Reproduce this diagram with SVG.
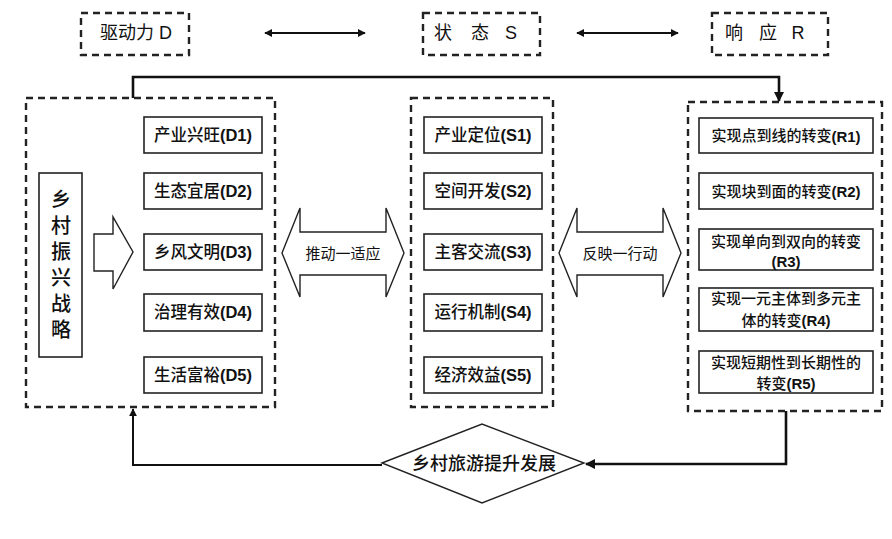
<svg xmlns="http://www.w3.org/2000/svg" width="892" height="539" viewBox="0 0 892 539">
<defs>
<style>
.dash{fill:none;stroke:#222;stroke-width:2.4;stroke-dasharray:7 5}
.box{fill:#fff;stroke:#222;stroke-width:1.6}
.shape{fill:#fff;stroke:#222;stroke-width:1.4}
.conn{fill:none;stroke:#111;stroke-width:2.6}
.thin{fill:none;stroke:#111;stroke-width:2}
text{font-family:"Liberation Sans","Noto Sans CJK SC",sans-serif;fill:#111;text-anchor:middle;dominant-baseline:central}
.hd{font-size:18px}
.bx{font-size:16.5px;font-weight:500}
.rx{font-size:15px;font-weight:500}
.lb{font-weight:bold}
.vt{font-size:20px;font-weight:500}
</style>
<marker id="ah" viewBox="0 0 10 10" refX="9" refY="5" markerWidth="4" markerHeight="4" orient="auto-start-reverse" markerUnits="strokeWidth">
<path d="M0,0 L10,5 L0,10 z" fill="#111"/>
</marker>
</defs>
<rect width="892" height="539" fill="#fff"/>

<g id="header-D"><rect class="dash" x="81" y="13" width="108" height="42"/><text class="hd" x="136" y="33">驱动力 D</text></g>
<g id="header-S"><rect class="dash" x="423" y="13" width="117" height="42"/><text class="hd" y="33"><tspan x="443">状</tspan><tspan x="480">态</tspan><tspan x="511">S</tspan></text></g>
<g id="header-R"><rect class="dash" x="712" y="13" width="116" height="42"/><text class="hd" y="33"><tspan x="734">响</tspan><tspan x="768">应</tspan><tspan x="798">R</tspan></text></g>

<g id="group-D">
<rect class="dash" x="26" y="98" width="249" height="309"/>
</g>
<g id="group-S">
<rect class="dash" x="411" y="98" width="142" height="309"/>
</g>
<g id="group-R">
<rect class="dash" x="688" y="102" width="194" height="309"/>
</g>

<g id="strategy">
<rect class="box" x="39" y="173" width="43" height="184"/>
<text class="vt" x="61" y="200">乡</text>
<text class="vt" x="61" y="226">村</text>
<text class="vt" x="61" y="252">振</text>
<text class="vt" x="61" y="278">兴</text>
<text class="vt" x="61" y="304">战</text>
<text class="vt" x="61" y="330">略</text>
</g>
<g id="arrow-strategy">
<polygon class="shape" points="94,234 113,234 113,217 133,252 113,289 113,271 94,271"/>
</g>

<g id="D1"><rect class="box" x="144" y="117" width="118" height="36"/><text class="bx" x="203" y="135">产业兴旺<tspan class="lb">(D1)</tspan></text></g>
<g id="D2"><rect class="box" x="144" y="173" width="118" height="36"/><text class="bx" x="203" y="191">生态宜居<tspan class="lb">(D2)</tspan></text></g>
<g id="D3"><rect class="box" x="144" y="234" width="118" height="36"/><text class="bx" x="203" y="252">乡风文明<tspan class="lb">(D3)</tspan></text></g>
<g id="D4"><rect class="box" x="144" y="294" width="118" height="37"/><text class="bx" x="203" y="312">治理有效<tspan class="lb">(D4)</tspan></text></g>
<g id="D5"><rect class="box" x="144" y="357" width="118" height="36"/><text class="bx" x="203" y="375">生活富裕<tspan class="lb">(D5)</tspan></text></g>

<g id="S1"><rect class="box" x="424" y="117" width="118" height="36"/><text class="bx" x="483" y="135">产业定位<tspan class="lb">(S1)</tspan></text></g>
<g id="S2"><rect class="box" x="424" y="173" width="118" height="36"/><text class="bx" x="483" y="191">空间开发<tspan class="lb">(S2)</tspan></text></g>
<g id="S3"><rect class="box" x="424" y="234" width="118" height="36"/><text class="bx" x="483" y="252">主客交流<tspan class="lb">(S3)</tspan></text></g>
<g id="S4"><rect class="box" x="424" y="294" width="118" height="37"/><text class="bx" x="483" y="312">运行机制<tspan class="lb">(S4)</tspan></text></g>
<g id="S5"><rect class="box" x="424" y="357" width="118" height="36"/><text class="bx" x="483" y="375">经济效益<tspan class="lb">(S5)</tspan></text></g>

<g id="R1"><rect class="box" x="699" y="118" width="174" height="35"/><text class="rx" x="786" y="135.5">实现点到线的转变<tspan class="lb">(R1)</tspan></text></g>
<g id="R2"><rect class="box" x="699" y="173" width="174" height="36"/><text class="rx" x="786" y="191">实现块到面的转变<tspan class="lb">(R2)</tspan></text></g>
<g id="R3"><rect class="box" x="699" y="229" width="174" height="41"/><text class="rx" x="786" y="241">实现单向到双向的转变</text><text class="rx lb" x="786" y="261">(R3)</text></g>
<g id="R4"><rect class="box" x="699" y="288" width="174" height="43"/><text class="rx" x="786" y="298">实现一元主体到多元主</text><text class="rx" x="786" y="320">体的转变<tspan class="lb">(R4)</tspan></text></g>
<g id="R5"><rect class="box" x="699" y="351" width="174" height="42"/><text class="rx" x="786" y="362">实现短期性到长期性的</text><text class="rx" x="786" y="383">转变<tspan class="lb">(R5)</tspan></text></g>

<g id="arrow-push-adapt">
<polygon class="shape" points="282,253 300,208 300,232 386,232 386,208 404,253 386,297 386,275 300,275 300,297"/>
<text style="font-size:15px" x="343" y="253">推动一适应</text>
</g>
<g id="arrow-reflect-act">
<polygon class="shape" points="559,253 577,208 577,232 663,232 663,208 681,253 663,297 663,275 577,275 577,297"/>
<text style="font-size:15px" x="620" y="253">反映一行动</text>
</g>

<g id="rural-tourism">
<polygon class="shape" points="382,463 482,424 584,463 482,503"/>
<text style="font-size:18px;font-weight:500" x="484" y="464">乡村旅游提升发展</text>
</g>

<g id="connectors">
<path class="thin" d="M265,33 H365" marker-start="url(#ah)" marker-end="url(#ah)"/>
<path class="thin" d="M577,33 H678" marker-start="url(#ah)" marker-end="url(#ah)"/>
<path class="conn" d="M133,98 V77 H779 V101" marker-end="url(#ah)"/>
<path class="conn" d="M786,411 V464 H586" marker-end="url(#ah)"/>
<path class="thin" d="M382,465 H133 V409" marker-end="url(#ah)"/>
</g>
</svg>
